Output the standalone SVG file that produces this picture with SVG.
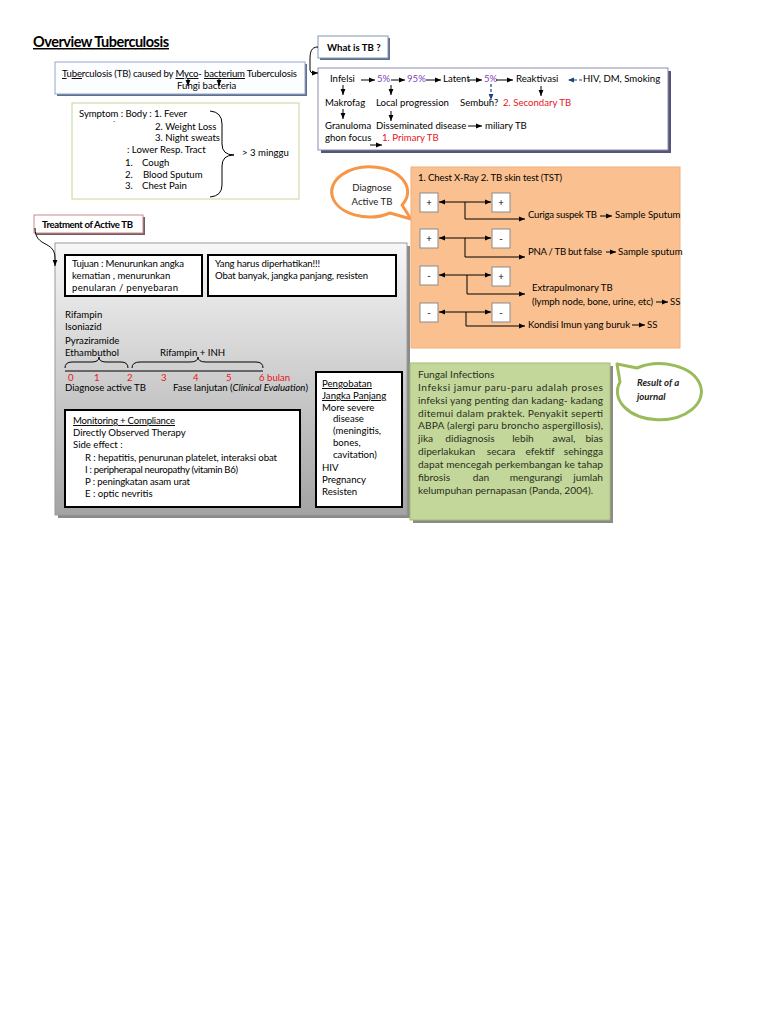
<svg xmlns="http://www.w3.org/2000/svg" width="768" height="1024" viewBox="0 0 768 1024">
<style>
text{font-family:Lato,"Liberation Sans",Arial,sans-serif;font-size:9.6px;fill:#000}
.b{font-weight:bold}
.u{text-decoration:underline}
.pu{fill:#7f3fbf}
.rd{fill:#e8141b}
.ln{stroke:#000;stroke-width:1;fill:none}
.ar{stroke:#000;stroke-width:1;fill:none;marker-end:url(#ah)}
.ar2{stroke:#000;stroke-width:1;fill:none;marker-end:url(#ah);marker-start:url(#ah)}
.bl{stroke:#1f3f7f;stroke-width:1.2;fill:none;stroke-dasharray:3 2;marker-end:url(#ahb)}
.sb{fill:#fff;stroke:#8a8a8a;stroke-width:1}
.blk{fill:#fff;stroke:#000;stroke-width:2}
.fg{fill:#2a3020;font-size:10.2px}
</style>
<defs>
<marker id="ah" viewBox="0 0 10 10" refX="10" refY="5" markerWidth="6" markerHeight="6" orient="auto-start-reverse" markerUnits="userSpaceOnUse"><path d="M0,1 L10,5 L0,9 z" fill="#000"/></marker>
<marker id="ahb" viewBox="0 0 10 10" refX="10" refY="5" markerWidth="6" markerHeight="6" orient="auto-start-reverse" markerUnits="userSpaceOnUse"><path d="M0,1 L10,5 L0,9 z" fill="#1f3f7f"/></marker>
<linearGradient id="gg" x1="0" y1="0" x2="0" y2="1"><stop offset="0" stop-color="#f7f7f7"/><stop offset="1" stop-color="#a3a3a3"/></linearGradient>
</defs>
<rect width="768" height="1024" fill="#fff"/>

<g id="title"><text x="33" y="47" class="b u" style="font-size:14.5px" textLength="136">Overview Tuberculosis</text></g>

<g id="tb-def">
<rect x="57" y="64" width="250" height="32" fill="#5e6f91"/>
<rect x="55" y="62" width="250" height="32" fill="#fcfdff" stroke="#95a5c7"/>
<text x="62" y="77" textLength="235"><tspan class="u">T</tspan>u<tspan class="u">be</tspan>rculosis (TB) caused by <tspan class="u">Myco</tspan>- <tspan class="u">bacterium</tspan> Tuberculosis</text>
<text x="177" y="89">Fungi bacteria</text>
<line x1="188" y1="79" x2="188" y2="86" class="ar"/>
<line x1="219" y1="79" x2="219" y2="86" class="ar"/>
</g>

<g id="symptom">
<rect x="72" y="103" width="227" height="96" fill="#fff" stroke="#c3d69b"/>
<text x="79" y="117" textLength="108">Symptom : Body : 1. Fever</text>
<text x="113" y="127" style="font-size:7px">`</text>
<text x="155" y="130">2. Weight Loss</text>
<text x="155" y="141">3. Night sweats</text>
<text x="127" y="153">: Lower Resp. Tract</text>
<text x="125" y="166">1.</text><text x="142" y="166">Cough</text>
<text x="125" y="178">2.</text><text x="143" y="178">Blood Sputum</text>
<text x="125" y="189">3.</text><text x="142" y="189">Chest Pain</text>
<path d="M210,111 Q222,112 222,124 L222,144 Q222,155 234,155 Q222,155 222,166 L222,185 Q222,196 210,197" class="ln"/>
<text x="242" y="156">&gt; 3 minggu</text>
</g>

<g id="whatis-label">
<rect x="320" y="38" width="70" height="22" fill="#5e6f91"/>
<rect x="318" y="36" width="70" height="22" fill="#fff" stroke="#8496b0"/>
<text x="327" y="51" class="b">What is TB ?</text>
</g>

<g id="whatis">
<rect x="321" y="71" width="350" height="82" fill="#55557a"/>
<rect x="318" y="68" width="350" height="82" fill="#fff" stroke="#8c8cb0"/>
<text x="330" y="82">Infelsi</text>
<text x="377" y="82" class="pu">5%</text>
<text x="407" y="82" class="pu">95%</text>
<text x="443" y="82">Latent</text>
<text x="484" y="82" class="pu">5%</text>
<text x="516" y="82">Reaktivasi</text>
<text x="583" y="82">HIV, DM, Smoking</text>
<text x="325" y="106">Makrofag</text>
<text x="376" y="106">Local progression</text>
<text x="460" y="106">Sembuh?</text>
<text x="503" y="106" class="rd">2. Secondary TB</text>
<text x="325" y="129">Granuloma</text>
<text x="376" y="129">Disseminated disease</text>
<text x="485" y="129">miliary TB</text>
<text x="325" y="141">ghon focus</text>
<text x="382" y="141" class="rd">1. Primary TB</text>
</g>

<g id="diagnose-bubble">
<path d="M402,205 A38,25 0 1,0 390,213 L411,219 Z" fill="#fff" stroke="#f79646" stroke-width="3" stroke-linejoin="round"/>
<text x="372" y="191" text-anchor="middle" style="fill:#222">Diagnose</text>
<text x="372" y="205" text-anchor="middle" style="fill:#222">Active TB</text>
</g>

<g id="diagnose">
<rect x="411" y="167" width="269" height="181" fill="#fac090" stroke="#f3b07c"/>
<text x="418" y="181" textLength="144">1.  Chest X-Ray  2. TB skin test (TST)</text>
<rect x="420" y="193" width="18" height="19" class="sb"/><text x="429" y="206" text-anchor="middle">+</text>
<rect x="492" y="193" width="18" height="19" class="sb"/><text x="501" y="206" text-anchor="middle">+</text>
<rect x="420" y="229" width="18" height="19" class="sb"/><text x="429" y="242" text-anchor="middle">+</text>
<rect x="492" y="229" width="18" height="19" class="sb"/><text x="501" y="242" text-anchor="middle">-</text>
<rect x="420" y="266" width="18" height="19" class="sb"/><text x="429" y="279" text-anchor="middle">-</text>
<rect x="492" y="267" width="18" height="19" class="sb"/><text x="501" y="280" text-anchor="middle">+</text>
<rect x="420" y="303" width="18" height="19" class="sb"/><text x="429" y="316" text-anchor="middle">-</text>
<rect x="492" y="303" width="18" height="19" class="sb"/><text x="501" y="316" text-anchor="middle">-</text>
<text x="528" y="218" textLength="69">Curiga suspek TB</text>
<text x="615" y="218">Sample Sputum</text>
<text x="528" y="255" textLength="74">PNA / TB but false</text>
<text x="618" y="255">Sample sputum</text>
<text x="532" y="291">Extrapulmonary TB</text>
<text x="532" y="305" textLength="121">(lymph node, bone, urine, etc)</text>
<text x="670" y="305">SS</text>
<text x="528" y="328" textLength="102">Kondisi Imun yang buruk</text>
<text x="647" y="328">SS</text>
</g>

<g id="treatment-label">
<rect x="36" y="217" width="109" height="18" fill="#7a5a5a"/>
<rect x="34" y="215" width="109" height="18" fill="#fff" stroke="#c98a8a"/>
<text x="42" y="228" class="b" textLength="91">Treatment of Active TB</text>
</g>

<g id="treatment">
<rect x="58" y="246" width="352" height="272" fill="#8a8a8a"/>
<rect x="55" y="243" width="352" height="272" fill="url(#gg)" stroke="#9a9a9a"/>
<rect x="65" y="255" width="137" height="41" class="blk"/>
<text x="72" y="267" textLength="112">Tujuan : Menurunkan angka</text>
<text x="72" y="279">kematian , menurunkan</text>
<text x="72" y="291" textLength="106">penularan / penyebaran</text>
<rect x="208" y="255" width="188" height="41" class="blk"/>
<text x="215" y="267" textLength="105">Yang harus diperhatikan!!!</text>
<text x="215" y="279" textLength="153">Obat banyak, jangka panjang, resisten</text>
<text x="65" y="318">Rifampin</text>
<text x="65" y="330">Isoniazid</text>
<text x="65" y="344">Pyraziramide</text>
<text x="65" y="356">Ethambuthol</text>
<text x="160" y="356">Rifampin + INH</text>
<path d="M65,368 Q65,362 72,362 L92,362 Q99,362 99,357 Q99,362 106,362 L121,362 Q128,362 128,368" class="ln"/>
<path d="M132,368 Q132,362 140,362 L190,362 Q198,362 198,357 Q198,362 206,362 L256,362 Q263,362 263,368" class="ln"/>
<line x1="65" y1="371" x2="263" y2="371" class="ln"/>
<text x="68" y="381" class="rd">0</text>
<text x="94" y="381" class="rd">1</text>
<text x="127" y="381" class="rd">2</text>
<text x="161" y="381" class="rd">3</text>
<text x="193" y="381" class="rd">4</text>
<text x="226" y="381" class="rd">5</text>
<text x="259" y="381" class="rd">6 bulan</text>
<text x="65" y="391">Diagnose active TB</text>
<text x="173" y="391" textLength="135">Fase lanjutan (<tspan font-style="italic">Clinical Evaluation</tspan>)</text>
<rect x="65" y="410" width="235" height="97" class="blk"/>
<text x="73" y="424" class="u" textLength="102">Monitoring + Compliance</text>
<text x="73" y="436">Directly Observed Therapy</text>
<text x="73" y="448">Side effect :</text>
<text x="85" y="461" textLength="192">R : hepatitis, penurunan platelet, interaksi obat</text>
<text x="85" y="473" textLength="153">I : peripherapal neuropathy (vitamin B6)</text>
<text x="85" y="485" textLength="105">P : peningkatan asam urat</text>
<text x="85" y="497">E : optic nevritis</text>
<rect x="316" y="372" width="86" height="135" class="blk"/>
<text x="322" y="387" class="u">Pengobatan</text>
<text x="322" y="399" class="u">Jangka Panjang</text>
<text x="322" y="411">More severe</text>
<text x="333" y="422">disease</text>
<text x="333" y="434">(meningitis,</text>
<text x="333" y="446">bones,</text>
<text x="333" y="458">cavitation)</text>
<text x="322" y="471">HIV</text>
<text x="322" y="483">Pregnancy</text>
<text x="322" y="495">Resisten</text>
</g>

<g id="fungal">
<rect x="413" y="366" width="200" height="157" fill="#8a8a8a"/>
<rect x="410" y="363" width="200" height="157" fill="#c4d79b" stroke="#a4bb6a"/>
<text x="418" y="378" class="fg">Fungal Infections</text>
<text x="418" y="391" class="fg" textLength="185">Infeksi jamur paru-paru adalah proses</text>
<text x="418" y="404" class="fg" textLength="185">infeksi yang penting dan kadang- kadang</text>
<text x="418" y="417" class="fg" textLength="185">ditemui dalam praktek. Penyakit seperti</text>
<text x="418" y="429" class="fg" textLength="185">ABPA (alergi paru broncho aspergillosis),</text>
<text x="418" y="442" class="fg">jika</text>
<text x="470" y="442" class="fg" text-anchor="middle">didiagnosis</text>
<text x="523" y="442" class="fg" text-anchor="middle">lebih</text>
<text x="564" y="442" class="fg" text-anchor="middle">awal,</text>
<text x="603" y="442" class="fg" text-anchor="end">bias</text>
<text x="418" y="455" class="fg">diperlakukan</text>
<text x="501" y="455" class="fg" text-anchor="middle">secara</text>
<text x="540" y="455" class="fg" text-anchor="middle">efektif</text>
<text x="603" y="455" class="fg" text-anchor="end">sehingga</text>
<text x="418" y="468" class="fg" textLength="185">dapat mencegah perkembangan ke tahap</text>
<text x="418" y="481" class="fg">fibrosis</text>
<text x="481" y="481" class="fg" text-anchor="middle">dan</text>
<text x="536" y="481" class="fg" text-anchor="middle">mengurangi</text>
<text x="603" y="481" class="fg" text-anchor="end">jumlah</text>
<text x="418" y="494" class="fg">kelumpuhan pernapasan (Panda, 2004).</text>
</g>

<g id="result-bubble">
<path d="M637,368 A42,28 0 1,1 620,382 L617,364 Z" fill="#fff" stroke="#9bbb59" stroke-width="3" stroke-linejoin="round"/>
<text x="637" y="386" class="b" font-style="italic" style="fill:#222">Result of a</text>
<text x="637" y="400" class="b" font-style="italic" style="fill:#222">journal</text>
</g>

<g id="connectors">
<path d="M318,47 C311,47 310,52 310,60 L310,69 C310,72 311,73 314,73 L318,73" class="ar"/>
<path d="M35,228 C35,248 55,240 55,258 L55,266" class="ar"/>
<line x1="361" y1="80" x2="375" y2="80" class="ar"/>
<line x1="391" y1="80" x2="405" y2="80" class="ar"/>
<line x1="426" y1="80" x2="441" y2="80" class="ar"/>
<line x1="468" y1="80" x2="482" y2="80" class="ar"/>
<line x1="496" y1="80" x2="513" y2="80" class="ar"/>
<line x1="582" y1="80" x2="568" y2="80" class="bl"/>
<line x1="343" y1="85" x2="343" y2="95" class="ar"/>
<line x1="391" y1="85" x2="391" y2="95" class="ar"/>
<line x1="491" y1="84" x2="491" y2="100" class="bl"/>
<line x1="541" y1="86" x2="541" y2="96" class="ar"/>
<line x1="343" y1="109" x2="343" y2="119" class="ar"/>
<line x1="391" y1="111" x2="391" y2="121" class="ar"/>
<line x1="468" y1="126" x2="482" y2="126" class="ar"/>
<line x1="370" y1="145" x2="382" y2="145" class="ar"/>
<line x1="439" y1="202" x2="491" y2="202" class="ar2"/>
<path d="M465,202 L465,219 L525,219" class="ar"/>
<line x1="439" y1="238" x2="491" y2="238" class="ar2"/>
<path d="M465,238 L465,257 L525,257" class="ar"/>
<line x1="439" y1="275" x2="491" y2="275" class="ar2"/>
<path d="M467,275 L467,294 L525,294" class="ar"/>
<line x1="439" y1="312" x2="491" y2="312" class="ar2"/>
<path d="M466,312 L466,326 L525,326" class="ar"/>
<line x1="600" y1="216" x2="612" y2="216" class="ar"/>
<line x1="606" y1="252" x2="616" y2="252" class="ar"/>
<line x1="656" y1="302" x2="668" y2="302" class="ar"/>
<line x1="632" y1="325" x2="645" y2="325" class="ar"/>
</g>
</svg>
